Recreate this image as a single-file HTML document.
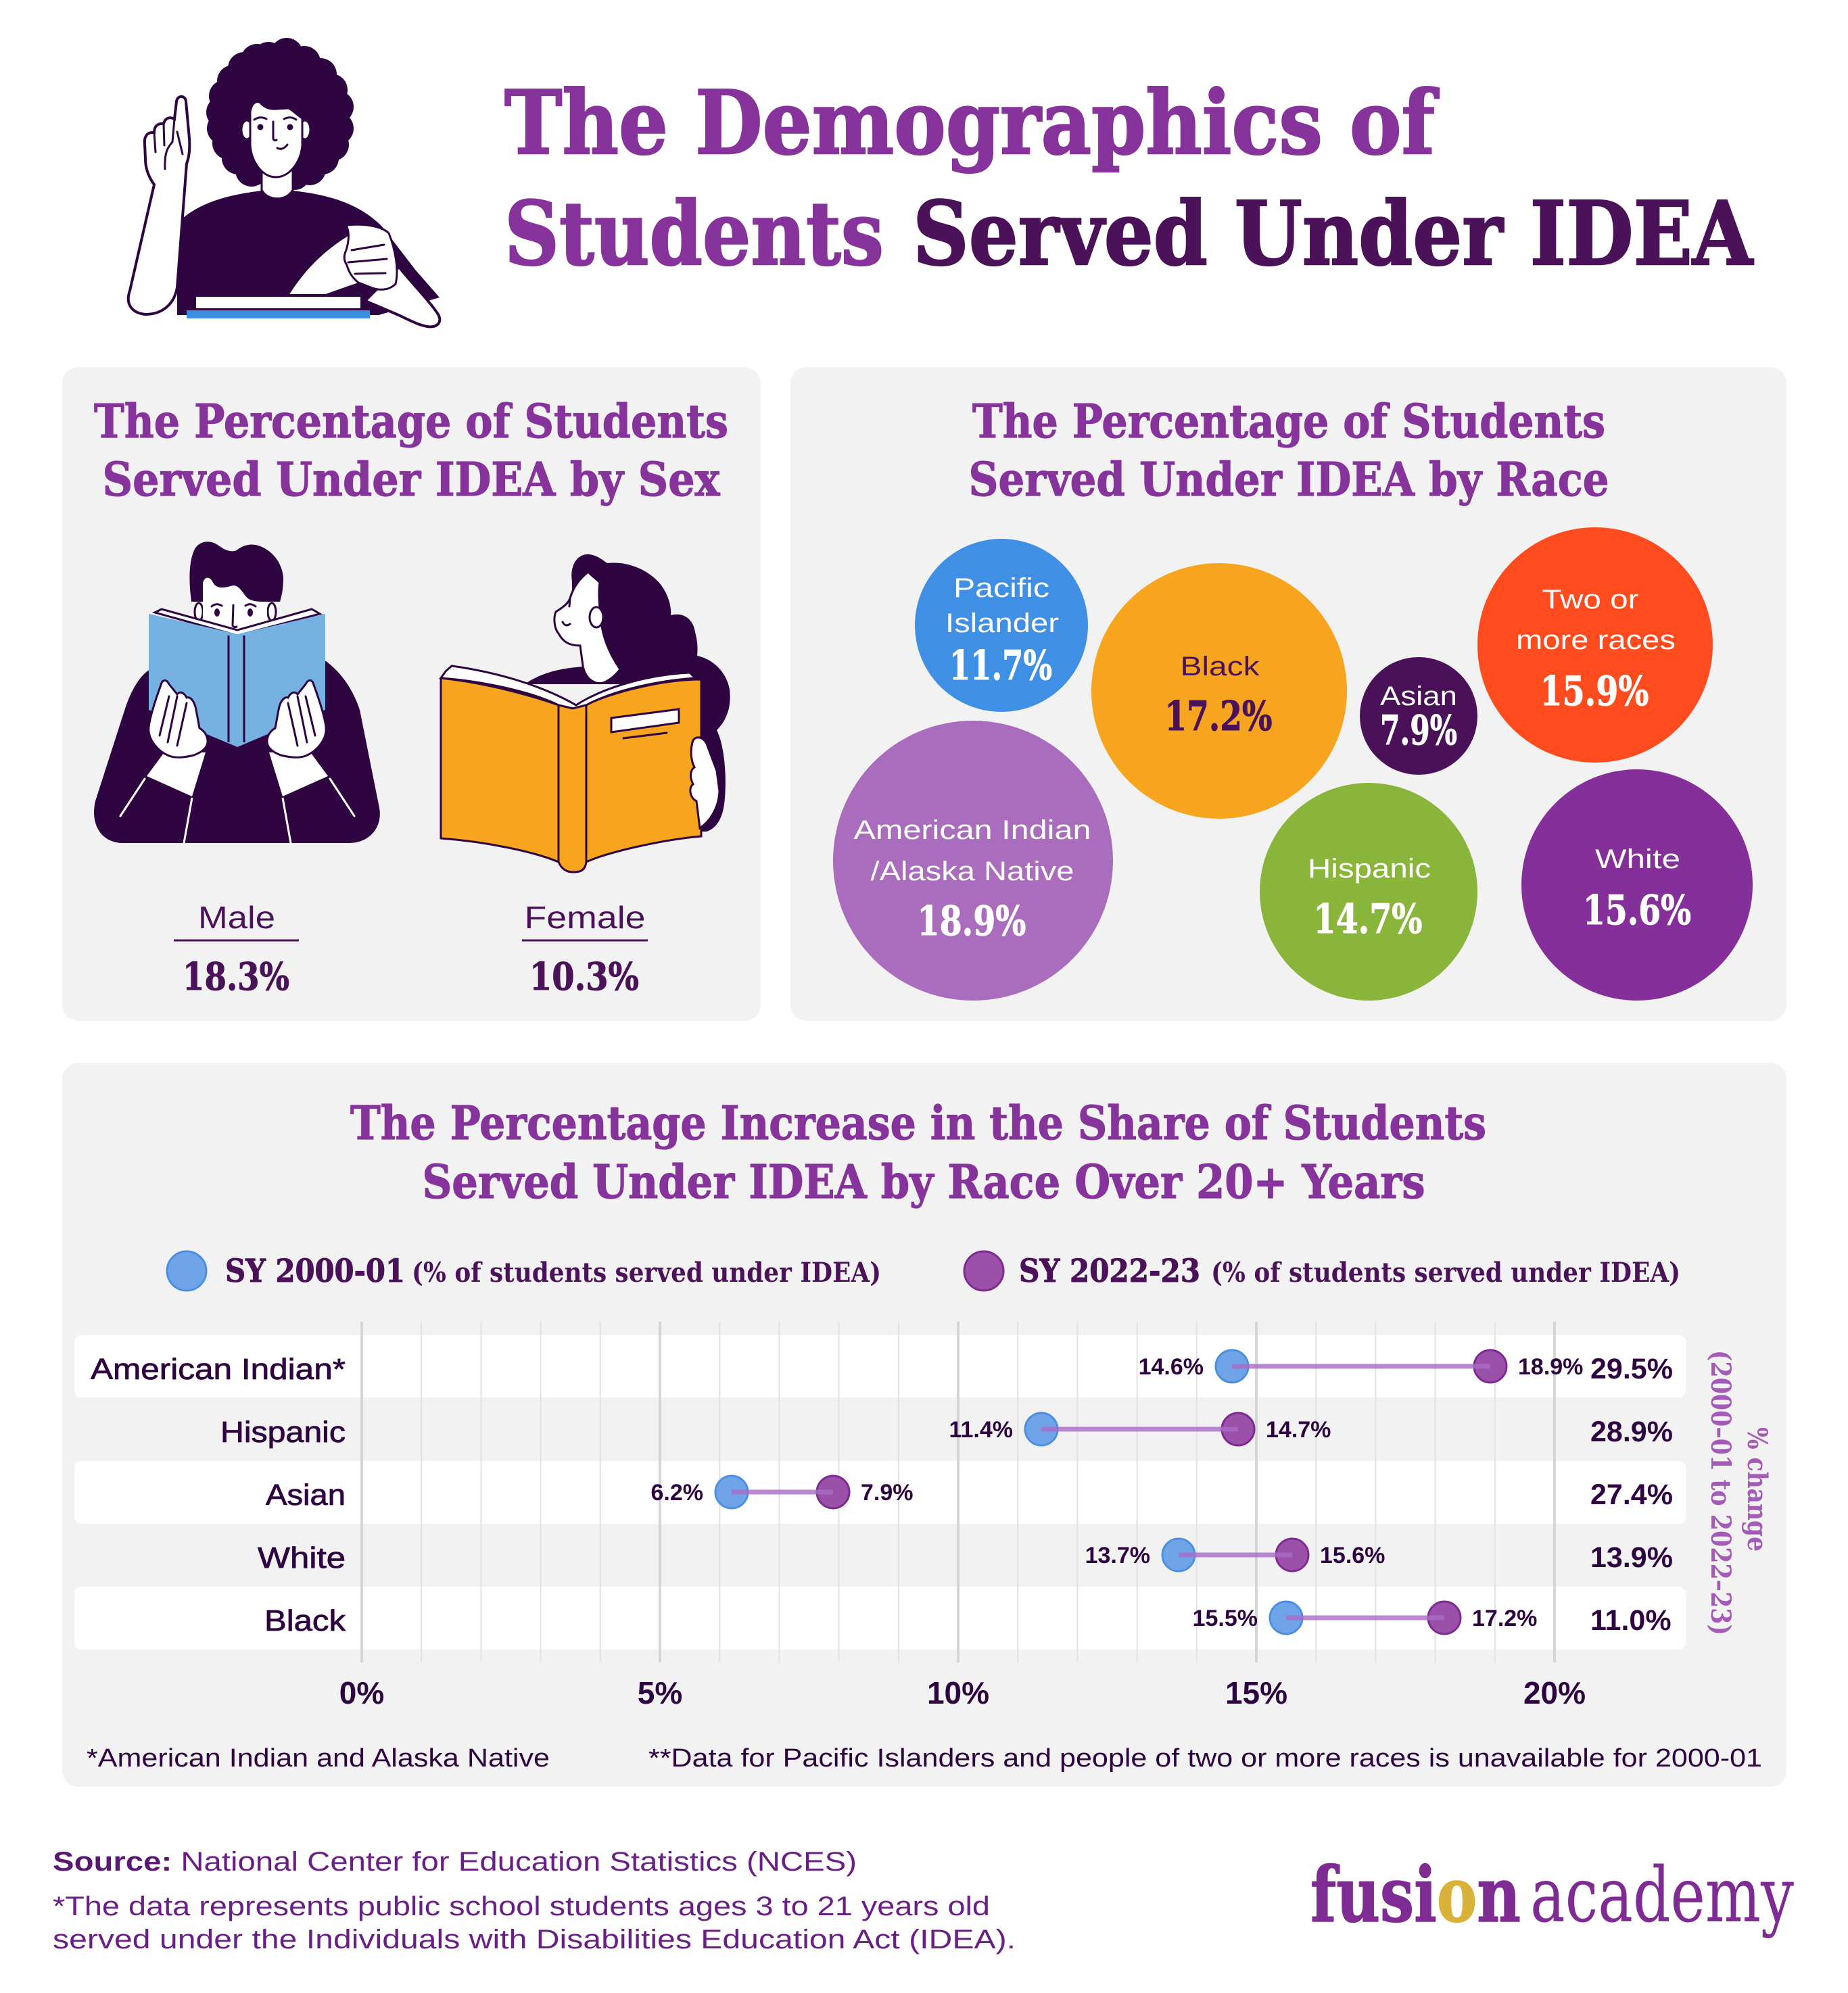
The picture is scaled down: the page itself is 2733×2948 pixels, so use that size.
<!DOCTYPE html>
<html>
<head>
<meta charset="utf-8">
<style>
html,body{margin:0;padding:0;background:#ffffff;}
svg{display:block;}
.slab{font-family:"DejaVu Serif","Liberation Serif",serif;font-weight:bold;}
.sans{font-family:"Liberation Sans","DejaVu Sans",sans-serif;}
</style>
</head>
<body>
<svg width="2733" height="2948" viewBox="0 0 2733 2948" xmlns="http://www.w3.org/2000/svg">
<rect x="0" y="0" width="2733" height="2948" fill="#ffffff"/>

<!-- ================= TOP ILLUSTRATION ================= -->
<g>
  <g fill="#2E0541">
    <ellipse cx="414" cy="170" rx="82" ry="86"/>
    <circle cx="397" cy="86" r="24"/><circle cx="424" cy="80" r="24"/><circle cx="450" cy="92" r="24"/>
    <circle cx="474" cy="110" r="24"/><circle cx="490" cy="133" r="24"/><circle cx="499" cy="158" r="24"/>
    <circle cx="499" cy="190" r="24"/><circle cx="492" cy="214" r="24"/><circle cx="477" cy="234" r="24"/>
    <circle cx="458" cy="250" r="24"/><circle cx="436" cy="259" r="22"/><circle cx="372" cy="252" r="24"/>
    <circle cx="352" cy="234" r="24"/><circle cx="338" cy="212" r="24"/><circle cx="330" cy="190" r="24"/>
    <circle cx="329" cy="166" r="24"/><circle cx="333" cy="142" r="24"/><circle cx="345" cy="120" r="24"/>
    <circle cx="361" cy="101" r="24"/><circle cx="380" cy="89" r="24"/>
  </g>
  <path d="M262,330 C295,298 340,288 387,282 L433,282 C485,288 530,300 565,335 L615,400 L650,440 L560,466 L262,466 Z" fill="#2E0541"/>
  <path d="M387,248 L387,281 C396,298 424,298 433,281 L433,248 Z" fill="#fff" stroke="#2E0541" stroke-width="3"/>
  <ellipse cx="365" cy="192" rx="8" ry="14" fill="#fff" stroke="#2E0541" stroke-width="3"/>
  <ellipse cx="451" cy="192" rx="8" ry="14" fill="#fff" stroke="#2E0541" stroke-width="3"/>
  <path d="M370,165 C372,152 380,148 385,152 C392,160 400,162 410,161 L427,160 C435,165 442,172 447,175 L447,215 C445,240 428,262 408,262 C388,262 372,240 370,215 Z" fill="#fff" stroke="#2E0541" stroke-width="3"/>
  <circle cx="385" cy="188" r="4.5" fill="#2E0541"/>
  <circle cx="429" cy="188" r="4.5" fill="#2E0541"/>
  <g fill="none" stroke="#2E0541" stroke-width="3" stroke-linecap="round">
    <path d="M376,177 Q385,171 394,176"/>
    <path d="M420,176 Q430,171 438,177"/>
    <path d="M404,180 L404,205 Q405,209 409,207"/>
    <path d="M410,219 Q418,223 425,214"/>
  </g>
  <path d="M192,430 L228,273 C220,262 215,250 215,235 L214,212 C213,202 218,196 225,196 L228,196 C228,186 234,182 242,183 C244,175 250,172 258,176 L261,150 C262,141 274,140 275,150 L280,205 C281,220 280,232 276,242 L262,425 C258,450 240,465 215,465 C195,463 185,450 192,430 Z" fill="#fff" stroke="#2E0541" stroke-width="4"/>
  <g fill="none" stroke="#2E0541" stroke-width="3" stroke-linecap="round">
    <path d="M228,196 L230,225"/><path d="M242,183 L243,215"/><path d="M258,176 L255,210 C248,218 243,225 244,250"/>
    <path d="M262,195 L270,228"/>
  </g>
  <path d="M590,395 C610,420 635,445 648,465 C655,478 645,485 632,483 C615,480 600,470 580,462 L540,445 L565,420 Z" fill="#fff" stroke="#2E0541" stroke-width="4"/>
  <path d="M417,455 C440,410 475,372 520,346 L530,418 C500,428 470,440 445,447 Z" fill="#fff"/>
  <path d="M512,333 C540,330 565,335 575,345 C585,370 590,400 585,420 C575,430 560,430 548,425 L530,418 C520,410 515,400 513,392 C508,385 508,378 512,370 C515,360 518,345 512,333 Z" fill="#fff" stroke="#2E0541" stroke-width="3"/>
  <g fill="none" stroke="#2E0541" stroke-width="3" stroke-linecap="round">
    <path d="M520,370 L568,362"/><path d="M515,388 L572,383"/><path d="M525,405 L570,404"/>
  </g>
  <rect x="288" y="437" width="247" height="21" fill="#fff" stroke="#2E0541" stroke-width="4"/>
  <rect x="276" y="459" width="271" height="12" fill="#3E8EE0"/>
</g>

<!-- ================= MAIN TITLE ================= -->
<text class="slab" x="746" y="227" font-size="130" fill="#87339C" stroke="#87339C" stroke-width="2.5" textLength="1376" lengthAdjust="spacingAndGlyphs">The Demographics of</text>
<text class="slab" x="746" y="391" font-size="130" fill="#87339C" stroke="#87339C" stroke-width="2.5" textLength="561" lengthAdjust="spacingAndGlyphs">Students</text>
<text class="slab" x="1350" y="391" font-size="130" fill="#4B1259" stroke="#4B1259" stroke-width="2.5" textLength="1242" lengthAdjust="spacingAndGlyphs">Served Under IDEA</text>

<!-- ================= PANELS ================= -->
<rect x="92" y="543" width="1033" height="967" rx="24" fill="#F2F2F2"/>
<rect x="1169" y="543" width="1473" height="967" rx="24" fill="#F2F2F2"/>
<rect x="92" y="1572" width="2550" height="1071" rx="24" fill="#F2F2F2"/>

<!-- ================= SEX PANEL ================= -->
<text class="slab" x="608" y="647" font-size="68" fill="#87339C" stroke="#87339C" stroke-width="1.2" text-anchor="middle" textLength="938" lengthAdjust="spacingAndGlyphs">The Percentage of Students</text>
<text class="slab" x="608" y="733" font-size="68" fill="#87339C" stroke="#87339C" stroke-width="1.2" text-anchor="middle" textLength="913" lengthAdjust="spacingAndGlyphs">Served Under IDEA by Sex</text>

<!-- male figure -->
<g>
  <path d="M222,990 C205,1000 193,1025 186,1045 L141,1185 C133,1220 150,1247 182,1247 L516,1247 C548,1247 566,1222 561,1195 L532,1050 C522,1020 505,995 482,978 Z" fill="#2E0541"/>
  <path d="M283,890 C279,860 279,830 288,812 C295,800 310,798 322,806 C330,812 340,818 350,814 C360,806 372,803 385,808 C405,816 418,835 419,855 C419,870 417,880 414,890 Z" fill="#2E0541"/>
  <ellipse cx="294" cy="905" rx="6" ry="13" fill="#fff" stroke="#2E0541" stroke-width="3"/>
  <ellipse cx="402" cy="905" rx="6" ry="13" fill="#fff" stroke="#2E0541" stroke-width="3"/>
  <path d="M300,895 L300,862 C303,852 310,853 314,860 C320,872 330,870 345,866 C352,866 356,872 362,880 C368,890 380,890 395,890 L395,930 L300,930 Z" fill="#fff"/>
  <ellipse cx="321" cy="906" rx="4" ry="6" fill="#2E0541"/>
  <ellipse cx="370" cy="906" rx="4" ry="6" fill="#2E0541"/>
  <g fill="none" stroke="#2E0541" stroke-width="3" stroke-linecap="round">
    <path d="M313,897 Q320,891 328,896"/><path d="M363,896 Q370,891 378,897"/>
    <path d="M345,895 L344,925 Q346,929 350,927"/>
  </g>
  <path d="M229,906 L239,901 L351,932 L461,901 L473,908 L351,940 Z" fill="#fff" stroke="#2E0541" stroke-width="3"/>
  <path d="M220,908 L351,938 L481,908 L481,1050 L351,1105 L220,1050 Z" fill="#75B1E1"/>
  <line x1="338" y1="940" x2="338" y2="1098" stroke="#2E0541" stroke-width="3"/>
  <line x1="361" y1="940" x2="361" y2="1098" stroke="#2E0541" stroke-width="3"/>
  <g>
    <path d="M245,1110 L304,1113 L284,1178 L217,1148 Z" fill="#fff"/>
    <path d="M214,1152 L178,1207" stroke="#fff" stroke-width="3" stroke-linecap="round"/>
    <path d="M284,1180 L272,1247" stroke="#fff" stroke-width="3"/>
    <path d="M238,1013 C230,1035 222,1060 220,1075 C218,1095 235,1112 250,1118 C260,1122 275,1120 287,1117 C300,1112 308,1105 307,1095 C306,1085 300,1080 295,1077 L290,1050 C288,1038 282,1030 276,1032 C272,1024 266,1022 262,1027 L250,1012 C246,1004 240,1005 238,1013 Z" fill="#fff" stroke="#2E0541" stroke-width="3"/>
    <g fill="none" stroke="#2E0541" stroke-width="3" stroke-linecap="round">
      <path d="M250,1030 L236,1088"/><path d="M262,1030 L248,1098"/><path d="M276,1040 L262,1103"/>
    </g>
  </g>
  <g transform="translate(702,0) scale(-1,1)">
    <path d="M245,1110 L304,1113 L284,1178 L217,1148 Z" fill="#fff"/>
    <path d="M214,1152 L178,1207" stroke="#fff" stroke-width="3" stroke-linecap="round"/>
    <path d="M284,1180 L272,1247" stroke="#fff" stroke-width="3"/>
    <path d="M238,1013 C230,1035 222,1060 220,1075 C218,1095 235,1112 250,1118 C260,1122 275,1120 287,1117 C300,1112 308,1105 307,1095 C306,1085 300,1080 295,1077 L290,1050 C288,1038 282,1030 276,1032 C272,1024 266,1022 262,1027 L250,1012 C246,1004 240,1005 238,1013 Z" fill="#fff" stroke="#2E0541" stroke-width="3"/>
    <g fill="none" stroke="#2E0541" stroke-width="3" stroke-linecap="round">
      <path d="M250,1030 L236,1088"/><path d="M262,1030 L248,1098"/><path d="M276,1040 L262,1103"/>
    </g>
  </g>
</g>

<!-- female figure -->
<g>
  <path d="M846,860 C842,835 855,818 872,820 C885,822 893,830 898,833 C925,830 955,840 975,862 C990,880 993,900 992,910 C1010,905 1025,915 1028,935 C1032,950 1032,960 1031,970 C1055,975 1075,995 1079,1020 C1082,1045 1075,1065 1060,1080 C1070,1100 1075,1140 1072,1180 C1070,1210 1060,1225 1045,1230 L1030,1230 L1030,1000 L880,990 C860,960 845,900 846,860 Z" fill="#2E0541"/>
  <path d="M776,1012 C800,995 830,988 864,986 L900,990 L1040,1000 L1040,1012 Z" fill="#2E0541"/>
  <path d="M870,846 C858,855 848,868 843,885 C840,893 833,898 822,905 C818,915 820,930 826,937 C832,948 840,955 858,955 L862,985 C866,1005 880,1013 892,1010 C905,1005 913,995 917,990 C900,965 890,940 888,910 C886,890 885,875 887,862 C882,856 875,852 870,846 Z" fill="#fff" stroke="#2E0541" stroke-width="3"/>
  <ellipse cx="882" cy="913" rx="10" ry="15" fill="#fff" stroke="#2E0541" stroke-width="3"/>
  <g fill="none" stroke="#2E0541" stroke-width="3" stroke-linecap="round">
    <path d="M843,885 L842,897"/><path d="M832,920 Q836,928 843,923"/>
  </g>
  <path d="M659,993 L668,985 C740,995 800,1015 843,1038 L852,1043 L860,1038 C900,1015 960,998 1020,995 L1028,1003 C960,1008 900,1025 867,1043 L847,1048 L826,1043 C790,1025 720,1008 652,1003 Z" fill="#fff" stroke="#2E0541" stroke-width="3"/>
  <path d="M652,1003 C720,1010 790,1030 826,1043 L847,1048 L867,1043 C900,1025 980,1005 1037,1005 L1037,1237 C980,1242 900,1260 867,1275 C865,1290 855,1290 847,1290 C838,1290 830,1285 826,1275 C790,1260 720,1245 652,1240 Z" fill="#F7A51F" stroke="#2E0541" stroke-width="3"/>
  <line x1="826" y1="1043" x2="826" y2="1275" stroke="#2E0541" stroke-width="3"/>
  <line x1="867" y1="1043" x2="867" y2="1275" stroke="#2E0541" stroke-width="3"/>
  <path d="M904,1062 L1004,1049 L1004,1069 L904,1083 Z" fill="#fff" stroke="#2E0541" stroke-width="3"/>
  <path d="M922,1092 L986,1084" stroke="#2E0541" stroke-width="3" stroke-linecap="round"/>
  <path d="M1025,1095 C1020,1110 1022,1125 1027,1135 C1020,1140 1020,1150 1025,1160 C1018,1165 1020,1180 1030,1185 L1035,1225 C1050,1215 1063,1195 1064,1170 L1060,1140 L1045,1100 C1040,1090 1030,1088 1025,1095 Z" fill="#fff" stroke="#2E0541" stroke-width="3"/>
</g>

<text class="sans" x="350" y="1373" font-size="46" fill="#4B1259" text-anchor="middle" textLength="114" lengthAdjust="spacingAndGlyphs">Male</text>
<line x1="257" y1="1391" x2="442" y2="1391" stroke="#4B1259" stroke-width="3"/>
<text class="slab" x="349" y="1464" font-size="56" fill="#4B1259" stroke="#4B1259" stroke-width="1" text-anchor="middle" textLength="158" lengthAdjust="spacingAndGlyphs">18.3%</text>
<text class="sans" x="865" y="1373" font-size="46" fill="#4B1259" text-anchor="middle" textLength="179" lengthAdjust="spacingAndGlyphs">Female</text>
<line x1="772" y1="1391" x2="958" y2="1391" stroke="#4B1259" stroke-width="3"/>
<text class="slab" x="864" y="1464" font-size="56" fill="#4B1259" stroke="#4B1259" stroke-width="1" text-anchor="middle" textLength="162" lengthAdjust="spacingAndGlyphs">10.3%</text>

<!-- ================= RACE PANEL ================= -->
<text class="slab" x="1906" y="647" font-size="68" fill="#87339C" stroke="#87339C" stroke-width="1.2" text-anchor="middle" textLength="936" lengthAdjust="spacingAndGlyphs">The Percentage of Students</text>
<text class="slab" x="1906" y="733" font-size="68" fill="#87339C" stroke="#87339C" stroke-width="1.2" text-anchor="middle" textLength="947" lengthAdjust="spacingAndGlyphs">Served Under IDEA by Race</text>

<circle cx="1481" cy="925" r="128" fill="#3F8FE5"/>
<circle cx="1803" cy="1022" r="189" fill="#F7A51F"/>
<circle cx="2098" cy="1059" r="87" fill="#4B1158"/>
<circle cx="2359" cy="954" r="174" fill="#FF4B1E"/>
<circle cx="1439" cy="1273" r="207" fill="#AA6DBD"/>
<circle cx="2024" cy="1319" r="161" fill="#8AB53B"/>
<circle cx="2421" cy="1309" r="171" fill="#85309A"/>

<g class="sans" font-size="40" text-anchor="middle" fill="#ffffff">
  <text x="1481" y="883" textLength="142" lengthAdjust="spacingAndGlyphs">Pacific</text>
  <text x="1482" y="935" textLength="168" lengthAdjust="spacingAndGlyphs">Islander</text>
  <text x="1804" y="999" fill="#4B1259" textLength="117" lengthAdjust="spacingAndGlyphs">Black</text>
  <text x="2098" y="1043" textLength="114" lengthAdjust="spacingAndGlyphs">Asian</text>
  <text x="2352" y="900" textLength="143" lengthAdjust="spacingAndGlyphs">Two or</text>
  <text x="2360" y="960" textLength="236" lengthAdjust="spacingAndGlyphs">more races</text>
  <text x="1438" y="1241" textLength="351" lengthAdjust="spacingAndGlyphs">American Indian</text>
  <text x="1438" y="1302" textLength="301" lengthAdjust="spacingAndGlyphs">/Alaska Native</text>
  <text x="2025" y="1298" textLength="182" lengthAdjust="spacingAndGlyphs">Hispanic</text>
  <text x="2422" y="1284" textLength="126" lengthAdjust="spacingAndGlyphs">White</text>
</g>
<g class="slab" font-size="60" text-anchor="middle" fill="#ffffff" stroke="#ffffff" stroke-width="1">
  <text x="1480" y="1005" textLength="152" lengthAdjust="spacingAndGlyphs">11.7%</text>
  <text x="1802" y="1080" fill="#4B1259" stroke="#4B1259" textLength="159" lengthAdjust="spacingAndGlyphs">17.2%</text>
  <text x="2098" y="1101" textLength="114" lengthAdjust="spacingAndGlyphs">7.9%</text>
  <text x="2358" y="1043" textLength="161" lengthAdjust="spacingAndGlyphs">15.9%</text>
  <text x="1437" y="1383" textLength="161" lengthAdjust="spacingAndGlyphs">18.9%</text>
  <text x="2023" y="1380" textLength="161" lengthAdjust="spacingAndGlyphs">14.7%</text>
  <text x="2421" y="1367" textLength="160" lengthAdjust="spacingAndGlyphs">15.6%</text>
</g>

<!-- ================= DUMBBELL CHART ================= -->
<text class="slab" x="1358" y="1685" font-size="68" fill="#87339C" stroke="#87339C" stroke-width="1.2" text-anchor="middle" textLength="1680" lengthAdjust="spacingAndGlyphs">The Percentage Increase in the Share of Students</text>
<text class="slab" x="1366" y="1772" font-size="68" fill="#87339C" stroke="#87339C" stroke-width="1.2" text-anchor="middle" textLength="1483" lengthAdjust="spacingAndGlyphs">Served Under IDEA by Race Over 20+ Years</text>

<!-- legend -->
<circle cx="276" cy="1880" r="29" fill="#6FA5E8" stroke="#4C8FE0" stroke-width="3"/>
<text class="slab" x="333" y="1896" font-size="47" fill="#4B1259" stroke="#4B1259" stroke-width="1" textLength="266" lengthAdjust="spacingAndGlyphs">SY 2000-01</text>
<text class="slab" x="609" y="1896" font-size="40" fill="#4B1259" textLength="694" lengthAdjust="spacingAndGlyphs">(% of students served under IDEA)</text>
<circle cx="1455" cy="1880" r="29" fill="#9B50AA" stroke="#7D2B90" stroke-width="3"/>
<text class="slab" x="1507" y="1896" font-size="47" fill="#4B1259" stroke="#4B1259" stroke-width="1" textLength="268" lengthAdjust="spacingAndGlyphs">SY 2022-23</text>
<text class="slab" x="1791" y="1896" font-size="40" fill="#4B1259" textLength="694" lengthAdjust="spacingAndGlyphs">(% of students served under IDEA)</text>

<!-- row bands -->
<rect x="110" y="1975" width="2383" height="92" rx="10" fill="#ffffff"/>
<rect x="110" y="2161" width="2383" height="93" rx="10" fill="#ffffff"/>
<rect x="110" y="2347" width="2383" height="93" rx="10" fill="#ffffff"/>

<!-- grid -->
<g stroke="#E2E2E2" stroke-width="2">
  <line x1="623.2" y1="1955" x2="623.2" y2="2459"/><line x1="711.4" y1="1955" x2="711.4" y2="2459"/>
  <line x1="799.6" y1="1955" x2="799.6" y2="2459"/><line x1="887.8" y1="1955" x2="887.8" y2="2459"/>
  <line x1="1064.2" y1="1955" x2="1064.2" y2="2459"/><line x1="1152.4" y1="1955" x2="1152.4" y2="2459"/>
  <line x1="1240.6" y1="1955" x2="1240.6" y2="2459"/><line x1="1328.8" y1="1955" x2="1328.8" y2="2459"/>
  <line x1="1505.2" y1="1955" x2="1505.2" y2="2459"/><line x1="1593.4" y1="1955" x2="1593.4" y2="2459"/>
  <line x1="1681.6" y1="1955" x2="1681.6" y2="2459"/><line x1="1769.8" y1="1955" x2="1769.8" y2="2459"/>
  <line x1="1946.2" y1="1955" x2="1946.2" y2="2459"/><line x1="2034.4" y1="1955" x2="2034.4" y2="2459"/>
  <line x1="2122.6" y1="1955" x2="2122.6" y2="2459"/><line x1="2210.8" y1="1955" x2="2210.8" y2="2459"/>
</g>
<g stroke="#D6D6D6" stroke-width="4">
  <line x1="535" y1="1955" x2="535" y2="2459"/>
  <line x1="976" y1="1955" x2="976" y2="2459"/>
  <line x1="1417" y1="1955" x2="1417" y2="2459"/>
  <line x1="1858" y1="1955" x2="1858" y2="2459"/>
  <line x1="2299" y1="1955" x2="2299" y2="2459"/>
</g>

<!-- row labels -->
<g class="sans" font-size="44" fill="#2E0541" text-anchor="end" stroke="#2E0541" stroke-width="0.8">
  <text x="511" y="2040" textLength="377" lengthAdjust="spacingAndGlyphs">American Indian*</text>
  <text x="511" y="2133" textLength="185" lengthAdjust="spacingAndGlyphs">Hispanic</text>
  <text x="511" y="2226" textLength="118" lengthAdjust="spacingAndGlyphs">Asian</text>
  <text x="511" y="2319" textLength="130" lengthAdjust="spacingAndGlyphs">White</text>
  <text x="511" y="2412" textLength="120" lengthAdjust="spacingAndGlyphs">Black</text>
</g>

<!-- dots -->
<g stroke-width="3">
  <circle cx="1822" cy="2021" r="24" fill="#6FA5E8" stroke="#4C8FE0"/>
  <circle cx="2204" cy="2021" r="24" fill="#9B50AA" stroke="#7D2B90"/>
  <circle cx="1540" cy="2114" r="24" fill="#6FA5E8" stroke="#4C8FE0"/>
  <circle cx="1831" cy="2114" r="24" fill="#9B50AA" stroke="#7D2B90"/>
  <circle cx="1082" cy="2207" r="24" fill="#6FA5E8" stroke="#4C8FE0"/>
  <circle cx="1232" cy="2207" r="24" fill="#9B50AA" stroke="#7D2B90"/>
  <circle cx="1743" cy="2300" r="24" fill="#6FA5E8" stroke="#4C8FE0"/>
  <circle cx="1911" cy="2300" r="24" fill="#9B50AA" stroke="#7D2B90"/>
  <circle cx="1902" cy="2393" r="24" fill="#6FA5E8" stroke="#4C8FE0"/>
  <circle cx="2136" cy="2393" r="24" fill="#9B50AA" stroke="#7D2B90"/>
</g>
<g stroke="#A96CC8" stroke-width="7" opacity="0.8">
  <line x1="1822" y1="2021" x2="2204" y2="2021"/>
  <line x1="1540" y1="2114" x2="1831" y2="2114"/>
  <line x1="1082" y1="2207" x2="1232" y2="2207"/>
  <line x1="1743" y1="2300" x2="1911" y2="2300"/>
  <line x1="1902" y1="2393" x2="2136" y2="2393"/>
</g>

<!-- value labels -->
<g class="sans" font-size="34" font-weight="bold" fill="#2E0541">
  <text x="1780" y="2033" text-anchor="end">14.6%</text>
  <text x="2245" y="2033">18.9%</text>
  <text x="1498" y="2126" text-anchor="end">11.4%</text>
  <text x="1872" y="2126">14.7%</text>
  <text x="1040" y="2219" text-anchor="end">6.2%</text>
  <text x="1273" y="2219">7.9%</text>
  <text x="1701" y="2312" text-anchor="end">13.7%</text>
  <text x="1952" y="2312">15.6%</text>
  <text x="1860" y="2405" text-anchor="end">15.5%</text>
  <text x="2177" y="2405">17.2%</text>
</g>

<!-- change values -->
<g class="sans" font-size="43" font-weight="bold" fill="#2E0541">
  <text x="2352" y="2039">29.5%</text>
  <text x="2352" y="2132">28.9%</text>
  <text x="2352" y="2225">27.4%</text>
  <text x="2352" y="2318">13.9%</text>
  <text x="2352" y="2411">11.0%</text>
</g>

<!-- rotated axis label -->
<text class="slab" transform="translate(2585,2203) rotate(90)" font-size="40" fill="#A45BB7" text-anchor="middle" textLength="184" lengthAdjust="spacingAndGlyphs">% change</text>
<text class="slab" transform="translate(2531,2208) rotate(90)" font-size="40" fill="#A45BB7" text-anchor="middle" textLength="422" lengthAdjust="spacingAndGlyphs">(2000–01 to 2022–23)</text>

<!-- axis labels -->
<g class="sans" font-size="46" font-weight="bold" fill="#2E0541" text-anchor="middle">
  <text x="535" y="2520">0%</text>
  <text x="976" y="2520">5%</text>
  <text x="1417" y="2520">10%</text>
  <text x="1858" y="2520">15%</text>
  <text x="2299" y="2520">20%</text>
</g>

<!-- footnotes -->
<text class="sans" x="128" y="2613" font-size="38" fill="#2E0541" textLength="685" lengthAdjust="spacingAndGlyphs">*American Indian and Alaska Native</text>
<text class="sans" x="959" y="2613" font-size="38" fill="#2E0541" textLength="1647" lengthAdjust="spacingAndGlyphs">**Data for Pacific Islanders and people of two or more races is unavailable for 2000-01</text>

<!-- ================= SOURCE ================= -->
<text class="sans" x="78" y="2767" font-size="40" fill="#6A1F84" textLength="1189" lengthAdjust="spacingAndGlyphs"><tspan font-weight="bold" fill="#5A1773">Source:</tspan> National Center for Education Statistics (NCES)</text>
<text class="sans" x="78" y="2833" font-size="40" fill="#6A1F84" textLength="1386" lengthAdjust="spacingAndGlyphs">*The data represents public school students ages 3 to 21 years old</text>
<text class="sans" x="78" y="2882" font-size="40" fill="#6A1F84" textLength="1424" lengthAdjust="spacingAndGlyphs">served under the Individuals with Disabilities Education Act (IDEA).</text>

<!-- logo -->
<text class="slab" x="1938" y="2842" font-size="112" fill="#7E2B93" stroke="#7E2B93" stroke-width="1.5" textLength="311" lengthAdjust="spacingAndGlyphs">fusi<tspan fill="#D9B23A" stroke="#D9B23A">o</tspan>n</text>
<text x="2263" y="2842" font-family="DejaVu Serif, Liberation Serif, serif" font-size="112" fill="#7E2B93" textLength="390" lengthAdjust="spacingAndGlyphs">academy</text>
</svg>
</body>
</html>
